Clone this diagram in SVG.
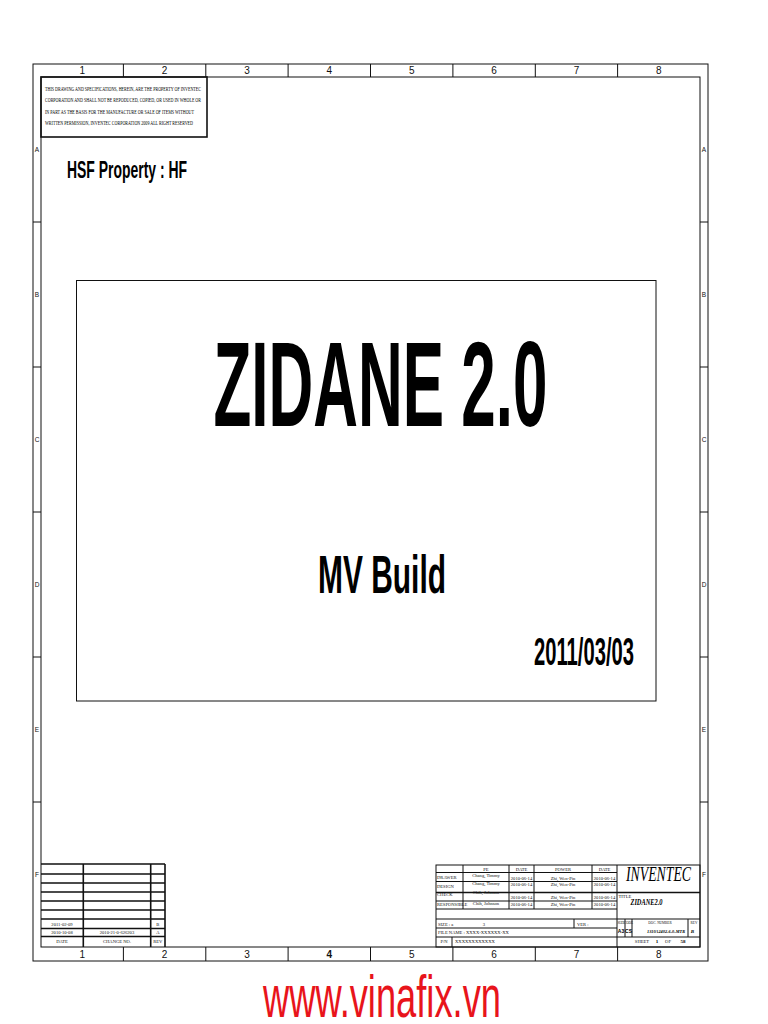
<svg xmlns="http://www.w3.org/2000/svg" width="768" height="1024" viewBox="0 0 768 1024">
<style>
.ln{stroke:#111;stroke-width:1;fill:none}
.lt{stroke:#111;stroke-width:1.6;fill:none}
.num{font-family:"Liberation Sans Narrow","Liberation Sans",sans-serif;font-size:10px;fill:#111;text-anchor:middle}
.let{font-family:"Liberation Sans Narrow","Liberation Sans",sans-serif;font-size:6.5px;fill:#111;text-anchor:middle}
.tiny{font-family:"Liberation Serif",serif;font-size:4.6px;fill:#111}
.dis{font-family:"Liberation Serif",serif;font-size:5.2px;fill:#000}
.tc{font-family:"Liberation Serif",serif;font-size:4.6px;fill:#111;text-anchor:middle}
.th{font-family:"Liberation Serif",serif;font-size:3.4px;fill:#111;text-anchor:middle}
.big{font-family:"Liberation Sans Narrow","Liberation Sans",sans-serif;font-weight:bold;fill:#000}
</style>
<rect width="768" height="1024" fill="#fff"/>

<g id="frame">
<rect class="ln" x="33" y="64" width="675" height="897"/>
<rect class="ln" x="41" y="77" width="659" height="870"/>
<path class="ln" d="M123.4 64V77M205.8 64V77M288.1 64V77M370.5 64V77M452.9 64V77M535.3 64V77M617.6 64V77M123.4 947V961M205.8 947V961M288.1 947V961M370.5 947V961M452.9 947V961M535.3 947V961M617.6 947V961"/>
<path class="ln" d="M33 222H41M33 367H41M33 512H41M33 657H41M33 802H41M700 222H708M700 367H708M700 512H708M700 657H708M700 802H708"/>
<text class="num" x="82.2" y="74">1</text><text class="num" x="164.6" y="74">2</text><text class="num" x="247" y="74">3</text><text class="num" x="329.3" y="74">4</text><text class="num" x="411.7" y="74">5</text><text class="num" x="494.1" y="74">6</text><text class="num" x="576.5" y="74">7</text><text class="num" x="658.8" y="74">8</text>
<text class="num" x="82.2" y="958">1</text><text class="num" x="164.6" y="958">2</text><text class="num" x="247" y="958">3</text><text class="num" x="329.3" y="958" font-weight="bold">4</text><text class="num" x="411.7" y="958">5</text><text class="num" x="494.1" y="958">6</text><text class="num" x="576.5" y="958">7</text><text class="num" x="658.8" y="958">8</text>
<text class="let" x="37" y="152">A</text><text class="let" x="37" y="297">B</text><text class="let" x="37" y="442">C</text><text class="let" x="37" y="587">D</text><text class="let" x="37" y="732">E</text><text class="let" x="37" y="877">F</text>
<text class="let" x="704" y="152">A</text><text class="let" x="704" y="297">B</text><text class="let" x="704" y="442">C</text><text class="let" x="704" y="587">D</text><text class="let" x="704" y="732">E</text><text class="let" x="704" y="877">F</text>
</g>

<g id="disclaimer">
<rect class="lt" x="41" y="77" width="166" height="60"/>
<text class="dis" x="45" y="90.5" textLength="156" lengthAdjust="spacingAndGlyphs">THIS DRAWING AND SPECIFICATIONS, HEREIN, ARE THE PROPERTY OF INVENTEC</text>
<text class="dis" x="45" y="102" textLength="156" lengthAdjust="spacingAndGlyphs">CORPORATION AND SHALL NOT BE REPODUCED, COPIED, OR USED IN WHOLE OR</text>
<text class="dis" x="45" y="113.5" textLength="149" lengthAdjust="spacingAndGlyphs">IN PART AS THE BASIS FOR THE MANUFACTURE OR SALE OF ITEMS WITHOUT</text>
<text class="dis" x="45" y="125" textLength="148" lengthAdjust="spacingAndGlyphs">WRITTEN PERMISSION, INVENTEC CORPORATION 2009 ALL RIGHT RESERVED</text>
</g>

<g id="hsf">
<text class="big" x="67" y="178" font-size="23.5" textLength="120" lengthAdjust="spacingAndGlyphs">HSF Property : HF</text>
</g>

<g id="titlebox">
<rect class="ln" x="76.5" y="280.5" width="579.5" height="420.5"/>
<text class="big" x="213.5" y="426" font-size="121" textLength="334" lengthAdjust="spacingAndGlyphs">ZIDANE 2.0</text>
<text class="big" x="318" y="593" font-size="53" textLength="128" lengthAdjust="spacingAndGlyphs">MV Build</text>
<text class="big" x="534" y="664.5" font-size="38" textLength="100" lengthAdjust="spacingAndGlyphs">2011/03/03</text>
</g>

<g id="revision">
<path class="lt" d="M41 864H165M41 874H165M41 883H165M41 892H165M41 901H165M41 910H165M41 919H165M41 928.5H165M41 936.5H165M165 864V947M83.3 864V947M150.7 864V947"/>
<text class="tc" x="62" y="925.5">2011-02-09</text><text class="tc" x="157.8" y="925.5">B</text>
<text class="tc" x="62" y="934">2010-10-08</text><text class="tc" x="117" y="934">2010-21-0-626203</text><text class="tc" x="157.8" y="934">A</text>
<text class="tc" x="62" y="943">DATE</text><text class="tc" x="117" y="943">CHANGE NO.</text><text class="tc" x="157.8" y="943">REV</text>
</g>

<g id="titleblock">
<rect class="ln" x="436" y="865" width="264" height="82"/>
<path class="ln" d="M436 872.5H617M436 881.5H617M436 901H617M436 909H617M436 919H700M436 928H617M436 937H700M463 865V909M509 865V909M534 865V909M592 865V909M574 919V928M452 937V947M617 865V947"/>
<path class="lt" d="M436 892.5H617M617 892.5H700"/>
<path class="ln" d="M625 919V937M632 919V937M688 919V937"/>
<text class="tc" x="486" y="870.5">PE</text><text class="tc" x="521.5" y="870.5">DATE</text><text class="tc" x="563" y="870.5">POWER</text><text class="tc" x="604.5" y="870.5">DATE</text>
<text class="tiny" x="437" y="879">DRAWER</text><text class="tiny" x="437" y="888">DESIGN</text><text class="tiny" x="437" y="896">CHECK</text><text class="tiny" x="437" y="905.5">RESPONSIBLE</text>
<text class="tc" x="486" y="876.5">Chang, Timmy</text><text class="tc" x="486" y="885">Chang, Timmy</text><text class="tc" x="486" y="894">Chih, Johnson</text><text class="tc" x="486" y="905">Chih, Johnson</text>
<text class="tc" x="521.5" y="879.5">2010-06-14</text><text class="tc" x="521.5" y="885.5">2010-06-14</text><text class="tc" x="521.5" y="898.5">2010-06-14</text><text class="tc" x="521.5" y="905.5">2010-06-14</text>
<text class="tc" x="563" y="879.5">Zhi, Wen-Pin</text><text class="tc" x="563" y="885.5">Zhi, Wen-Pin</text><text class="tc" x="563" y="898.5">Zhi, Wen-Pin</text><text class="tc" x="563" y="905.5">Zhi, Wen-Pin</text>
<text class="tc" x="604.5" y="879.5">2010-06-14</text><text class="tc" x="604.5" y="885.5">2010-06-14</text><text class="tc" x="604.5" y="898.5">2010-06-14</text><text class="tc" x="604.5" y="905.5">2010-06-14</text>
<text class="tiny" x="438" y="925.5">SIZE : a</text><text class="tc" x="484" y="925.5">3</text><text class="tiny" x="577" y="925.5">VER :</text>
<text class="tiny" x="438" y="934">FILE NAME :   XXXX-XXXXXX-XX</text>
<text class="tc" x="444" y="943">P/N</text><text class="tiny" x="455" y="943">XXXXXXXXXXXX</text>
<text x="626" y="881" font-family="Liberation Serif,serif" font-style="italic" font-size="20" textLength="65" lengthAdjust="spacingAndGlyphs" fill="#000">INVENTEC</text>
<text class="tiny" x="618.5" y="898">TITLE</text>
<text x="630.5" y="904.5" font-family="Liberation Serif,serif" font-style="italic" font-weight="bold" font-size="8.5" textLength="32" lengthAdjust="spacingAndGlyphs" fill="#000">ZIDANE2.0</text>
<text class="th" x="621" y="923.5">SIZE</text><text class="th" x="628.5" y="923.5">CODE</text><text class="th" x="660" y="923.5">DOC. NUMBER</text><text class="th" x="694" y="923.5">REV</text>
<text x="621" y="932.5" font-family="Liberation Sans,sans-serif" font-weight="bold" font-size="5" text-anchor="middle" fill="#000">A3</text>
<text x="628.5" y="932.5" font-family="Liberation Sans,sans-serif" font-weight="bold" font-size="5" text-anchor="middle" fill="#000">CS</text>
<text x="647" y="932.5" font-family="Liberation Serif,serif" font-style="italic" font-weight="bold" font-size="5" textLength="38" lengthAdjust="spacingAndGlyphs" fill="#000">1310A2402-6-0-MTR</text>
<text x="692.5" y="932.5" font-family="Liberation Serif,serif" font-style="italic" font-weight="bold" font-size="5" text-anchor="middle" fill="#000">B</text>
<text class="tc" x="642" y="943">SHEET</text>
<text x="657" y="943" font-family="Liberation Serif,serif" font-weight="bold" font-size="5" text-anchor="middle" fill="#000">1</text>
<text class="tc" x="668" y="943">OF</text>
<text x="683" y="943" font-family="Liberation Serif,serif" font-weight="bold" font-size="5" text-anchor="middle" fill="#000">58</text>
</g>

<g id="watermark">
<text x="263" y="1017" font-family="Liberation Sans Narrow,Liberation Sans,sans-serif" font-size="60" fill="#e8141b" textLength="238" lengthAdjust="spacingAndGlyphs">www.vinafix.vn</text>
</g>
</svg>
